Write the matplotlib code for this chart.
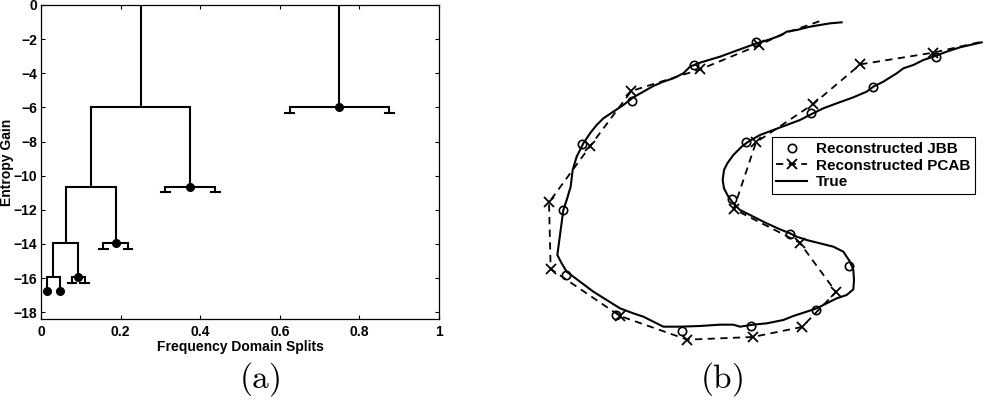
import matplotlib
matplotlib.use("Agg")
import matplotlib.pyplot as plt
from matplotlib.lines import Line2D

plt.rcParams['font.family'] = ['Liberation Sans', 'DejaVu Sans']
plt.rcParams['mathtext.fontset'] = 'cm'

# ---------------- (a) dendrogram data ----------------
split_x = [0.25, 0.125, 0.0625, 0.03125]
split_top = [0.0, -6.0, -10.65, -13.95]
split_y = [-6.0, -10.65, -13.95, -15.95]
split_half = [0.125, 0.0625, 0.03125, 0.015625]

leaf_x = [0.375, 0.1875, 0.09375, 0.015625, 0.046875, 0.75]
leaf_top = [-6.0, -10.65, -13.95, -15.95, -15.95, 0.0]
leaf_y = [-10.65, -13.95, -15.95, -16.75, -16.75, -6.0]
leaf_half = [0.0625, 0.03125, 0.015625, 0.0, 0.0, 0.125]

x_ticks = [0, 0.2, 0.4, 0.6, 0.8, 1]
x_ticklabels = ['0', '0.2', '0.4', '0.6', '0.8', '1']
y_ticks = [0, -2, -4, -6, -8, -10, -12, -14, -16, -18]

# ---------------- (b) curve data ----------------
true_x = [1025, 990, 960, 930, 890, 860, 845, 810, 770, 720, 660, 600, 570, 550, 520, 490, 460, 430,
          400, 370, 340, 310, 290, 270, 250, 230, 218, 212, 200, 190, 182, 172, 185, 200, 240, 280,
          320, 360, 400, 430, 460, 490, 540, 600, 660, 700, 720, 760, 800, 850, 880, 920, 950, 980,
          1010, 1040, 1060, 1062, 1060, 1050, 1030, 1000, 960, 920, 890, 870, 840, 800, 760, 720,
          700, 685, 672, 668, 672, 682, 700, 725, 745, 780, 820, 860, 900, 935, 970, 1010, 1060,
          1100, 1120, 1150, 1190, 1210, 1240, 1270, 1300, 1340, 1380, 1410, 1445]
true_y = [67, 70, 75, 80, 90, 95, 105, 118, 130, 148, 170, 188, 200, 220, 235, 245, 258, 275,
          292, 315, 335, 355, 375, 400, 430, 470, 510, 560, 600, 630, 690, 765, 790, 815, 845, 875,
          900, 925, 940, 950, 965, 980, 980, 978, 974, 974, 980, 974, 970, 960, 948, 935, 925, 910,
          895, 885, 868, 840, 810, 785, 755, 740, 730, 720, 710, 700, 688, 670, 650, 630,
          610, 590, 565, 540, 510, 490, 465, 440, 425, 405, 390, 375, 360, 342, 325, 310, 292,
          275, 260, 245, 220, 205, 195, 180, 170, 155, 142, 135, 127]

jbb_x = [768, 583, 397, 247, 188, 199, 347, 547, 754, 947, 1046, 870, 697, 738, 934, 1120, 1309]
jbb_y = [127, 196, 304, 433, 631, 825, 944, 993, 978, 931, 799, 703, 598, 427, 340, 260, 172]

pcab_x = [958, 850, 778, 601, 394, 270, 147, 152, 360, 562, 758, 906, 1008, 899, 701, 768, 940,
          1081, 1300, 1445]
pcab_y = [64, 101, 135, 208, 273, 439, 607, 807, 948, 1019, 1011, 981, 876, 728, 627, 427, 312,
          193, 158, 125]

legend_labels = ['Reconstructed JBB', 'Reconstructed PCAB', 'True']

W, H = 987, 400
fig = plt.figure(figsize=(W / 100, H / 100), dpi=100)

# ---------------- left axes ----------------
ax = fig.add_axes([41 / W, 1 - 319 / H, 398 / W, 314 / H])
lw = 1.5
for x, t, y, h in zip(split_x, split_top, split_y, split_half):
    ax.plot([x, x], [t, y], color='k', lw=lw, solid_capstyle='butt')
    ax.plot([x - h, x + h], [y, y], color='k', lw=lw, solid_capstyle='projecting')
drop = 0.33
cap = 0.011
for x, t, y, h in zip(leaf_x, leaf_top, leaf_y, leaf_half):
    ax.plot([x, x], [t, y], color='k', lw=lw, solid_capstyle='butt')
    if h > 0:
        ax.plot([x - h, x - h, x + h, x + h], [y - drop, y, y, y - drop], color='k', lw=lw,
                solid_joinstyle='miter')
        for e in (x - h, x + h):
            ax.plot([e - cap, e + cap], [y - drop, y - drop], color='k', lw=lw)
ax.plot(leaf_x, leaf_y, 'o', color='k', ms=5.5, ls='none')

ax.set_xlim(0, 1)
ax.set_ylim(-18.4, 0)
ax.set_xticks(x_ticks)
ax.set_xticklabels(x_ticklabels)
ax.set_yticks(y_ticks)
ax.tick_params(direction='in', top=True, right=True, length=3, width=0.8, labelsize=10)
ax.tick_params(axis='x', pad=4)
ax.tick_params(axis='y', pad=3)
for lab in ax.get_xticklabels() + ax.get_yticklabels():
    lab.set_fontweight('bold')
for s in ax.spines.values():
    s.set_linewidth(0.9)
ax.set_xlabel('Frequency Domain Splits', fontsize=10, fontweight='bold')
ax.xaxis.set_label_coords(0.5, -(340 - 319) / 314)
ax.xaxis.label.set_va('top')
ax.set_ylabel('Entropy Gain', fontsize=10, fontweight='bold')
ax.yaxis.set_label_coords((7.5 - 41) / 398, 0.5)
ax.yaxis.label.set_va('center')

# ---------------- right axes ----------------
bx = fig.add_axes([500 / W, 0, 487 / W, 1])
bx.set_xlim(0, 1461)
bx.set_ylim(1200, 0)
bx.axis('off')
bx.plot(jbb_x, jbb_y, 'o', ls='none', mfc='none', mec='k', ms=6, mew=1.2)
bx.plot(pcab_x, pcab_y, '--x', color='k', lw=1.3, ms=6.5, mew=1.3,
        markevery=list(range(2, len(pcab_x) - 1)), dashes=(4, 3))
bx.plot(true_x, true_y, '-', color='k', lw=1.5)

h_jbb = Line2D([], [], ls='none', marker='o', mfc='none', mec='k', ms=6, mew=1.2)
h_pcab = Line2D([], [], ls='--', marker='x', color='k', lw=1.3, ms=6.5, mew=1.3, dashes=(4, 3))
h_true = Line2D([], [], ls='-', color='k', lw=1.5)

leg = fig.legend([h_jbb, h_pcab, h_true], legend_labels, loc='upper left',
                 bbox_to_anchor=(771.7 / W, 1 - 137.3 / H), borderaxespad=0,
                 prop={'weight': 'bold', 'size': 11}, frameon=True, fancybox=False,
                 edgecolor='k', framealpha=1, handlelength=2.0, handletextpad=0.6,
                 labelspacing=0.18, borderpad=0.3, numpoints=1)
leg.get_frame().set_linewidth(0.8)

fig.text(260 / W, 1 - 388 / H, r'$\mathrm{(a)}$', fontsize=24, ha='center', va='baseline')
fig.text(722 / W, 1 - 388 / H, r'$\mathrm{(b)}$', fontsize=24, ha='center', va='baseline')

fig.savefig('out.png', dpi=100)
